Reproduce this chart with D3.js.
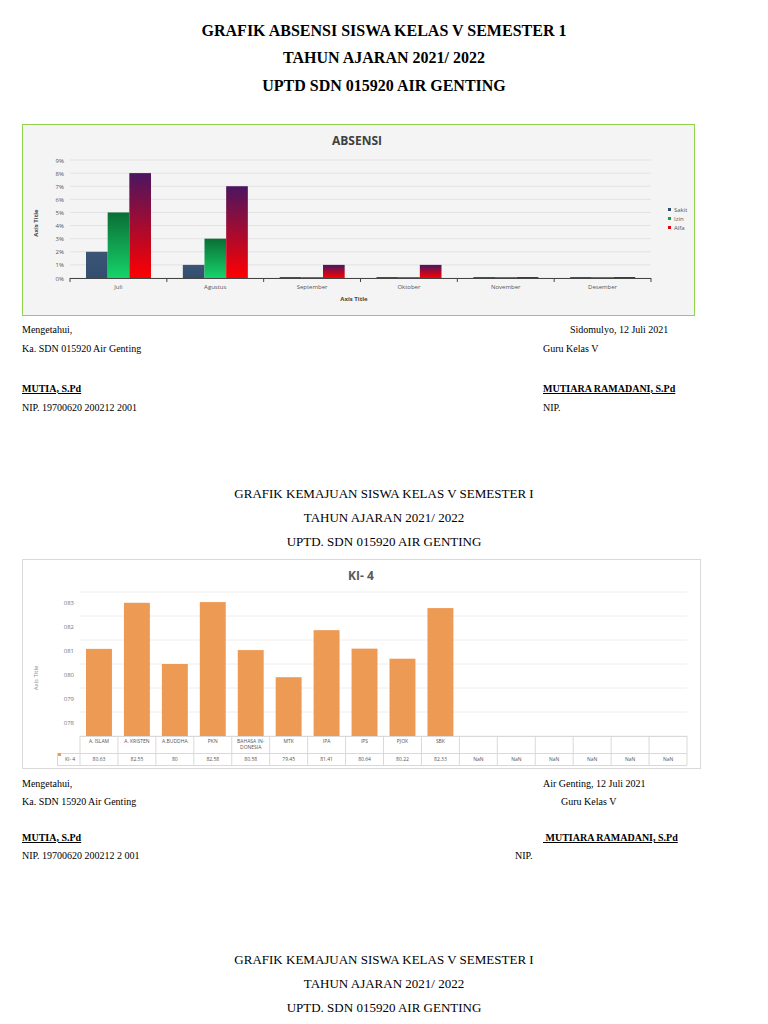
<!DOCTYPE html><html><head><meta charset="utf-8"><script src="https://cdn.jsdelivr.net/npm/d3@7"></script>
<style>body{margin:0;background:#fff}svg{display:block}</style></head><body><svg id="s" width="768" height="1024"></svg><script>
const months=["Juli","Agustus","September","Oktober","November","Desember"];
const sakit=[2,1,0,0,0,0];
const izin=[5,3,0,0,0,0];
const alfa=[8,7,1,1,0,0];
const seriesNames=["Sakit","Izin","Alfa"];
const pctTicks=[0,1,2,3,4,5,6,7,8,9];
const subjects=["A. ISLAM","A. KRISTEN","A.BUDDHA","PKN","BAHASA IN-|DONESIA","MTK","IPA","IPS","PJOK","SBK","","","","","",""];
const ki4=[80.63,82.55,80,82.58,80.58,79.45,81.41,80.64,80.22,82.33,null,null,null,null,null,null];
const ki4Ticks=[78,79,80,81,82,83];

const svg=d3.select("#s");
const serif="Liberation Serif, serif", sans="Open Sans, DejaVu Sans, sans-serif";
function txt(x,y,t,o={}){return svg.append("text").attr("x",x).attr("y",y).text(t).attr("font-family",o.f||serif).attr("font-size",o.s||10).attr("font-weight",o.b?"bold":"normal").attr("text-anchor",o.a||"start").attr("fill",o.c||"#000").attr("text-decoration",o.u?"underline":"none");}
[["GRAFIK ABSENSI SISWA KELAS V SEMESTER 1",36],["TAHUN AJARAN 2021/ 2022",63],["UPTD SDN 015920 AIR GENTING",91]].forEach(d=>txt(384,d[1],d[0],{s:16,b:1,a:"middle"}));

// chart 1
svg.append("rect").attr("x",22.5).attr("y",124.5).attr("width",672).attr("height",191).attr("fill","#f4f4f4").attr("stroke","#92d050");
txt(357,145,"ABSENSI",{f:sans,s:12,b:1,a:"middle",c:"#404040"});
const defs=svg.append("defs");
function grad(id,a,b){const g=defs.append("linearGradient").attr("id",id).attr("x1",0).attr("y1",0).attr("x2",0).attr("y2",1);g.append("stop").attr("offset","0").attr("stop-color",a);g.append("stop").attr("offset","1").attr("stop-color",b);}
grad("gs","#3b5575","#324d6e");grad("gi","#0a6e35","#16d36a");grad("ga","#4a1660","#ff0000");
const x1=d3.scaleBand().domain(months).range([70,651]);
const y1=d3.scaleLinear().domain([0,9]).range([278,160]);
const g1=svg.append("g");
pctTicks.forEach(t=>{g1.append("line").attr("x1",70).attr("x2",651).attr("y1",y1(t)).attr("y2",y1(t)).attr("stroke","#e2e2e2");txt(64,y1(t)+2.5,t+"%",{f:sans,s:6,a:"end",c:"#555"});});
const xs=d3.scaleBand().domain(seriesNames).range([0,65]);
const fills=["url(#gs)","url(#gi)","url(#ga)"];
[sakit,izin,alfa].forEach((arr,i)=>arr.forEach((v,j)=>{const x=x1(months[j])+16+xs(seriesNames[i]);g1.append("rect").attr("x",x).attr("width",xs.bandwidth()).attr("y",y1(v)-(v?0:1)).attr("height",y1(0)-y1(v)+(v?0:1)).attr("fill",fills[i]);}));
g1.append("line").attr("x1",70).attr("x2",651).attr("y1",278.5).attr("y2",278.5).attr("stroke","#444");
months.forEach((m,j)=>{txt(x1(m)+x1.bandwidth()/2,289,m,{f:sans,s:6,a:"middle",c:"#555"});});
d3.range(7).forEach(j=>g1.append("line").attr("x1",70+j*x1.bandwidth()).attr("x2",70+j*x1.bandwidth()).attr("y1",278).attr("y2",282).attr("stroke","#444"));
txt(354,301,"Axis Title",{f:sans,s:6,b:1,a:"middle",c:"#444"});
txt(0,0,"Axis Title",{f:sans,s:6,b:1,a:"middle",c:"#444"}).attr("transform","translate(38,223) rotate(-90)");
["#324d6e","#10a050","#e00010"].forEach((c,i)=>{g1.append("rect").attr("x",668).attr("y",208+i*9).attr("width",3).attr("height",3).attr("fill",c);txt(674,212+i*9,seriesNames[i],{f:sans,s:6,c:"#555"});});

// signatures 1
txt(22,333,"Mengetahui,");txt(570,333,"Sidomulyo, 12 Juli 2021");
txt(22,352,"Ka. SDN 015920 Air Genting");txt(543,352,"Guru Kelas V");
txt(22,392,"MUTIA, S.Pd",{b:1,u:1});txt(543,392,"MUTIARA RAMADANI, S.Pd",{b:1,u:1});
txt(22,411,"NIP. 19700620 200212 2001");txt(543,411,"NIP.");

[["GRAFIK KEMAJUAN SISWA KELAS V SEMESTER I",498],["TAHUN AJARAN 2021/ 2022",522],["UPTD. SDN 015920 AIR GENTING",546]].forEach(d=>txt(384,d[1],d[0],{s:13,a:"middle"}));

// chart 2
svg.append("rect").attr("x",22.5).attr("y",559.5).attr("width",678).attr("height",209).attr("fill","#fff").attr("stroke","#d9d9d9");
txt(361,580,"KI- 4",{f:sans,s:12,b:1,a:"middle",c:"#595959"});
const x2=d3.scaleBand().domain(d3.range(16)).range([80,687]);
const y2=d3.scaleLinear().domain([77,83]).range([736,592]);
const g2=svg.append("g");
d3.range(77,84).forEach(t=>g2.append("line").attr("x1",80).attr("x2",687).attr("y1",y2(t)).attr("y2",y2(t)).attr("stroke","#eeeeee"));
ki4Ticks.forEach(t=>txt(74,y2(t)+13,"0"+t,{f:sans,s:6,a:"end",c:"#777"}));
txt(0,0,"Axis Title",{f:sans,s:6,a:"middle",c:"#888"}).attr("transform","translate(38,678) rotate(-90)");
ki4.forEach((v,i)=>{if(v==null)return;g2.append("rect").attr("x",x2(i)+6).attr("width",x2.bandwidth()-12).attr("y",y2(v)).attr("height",y2(77)-y2(v)).attr("fill","#ed9a55");});
// table
const tb=svg.append("g").attr("stroke","#d9d9d9").attr("fill","none");
tb.append("line").attr("x1",57).attr("x2",687).attr("y1",753.5).attr("y2",753.5);
tb.append("line").attr("x1",80).attr("x2",687).attr("y1",736.5).attr("y2",736.5);
tb.append("line").attr("x1",57).attr("x2",687).attr("y1",765.5).attr("y2",765.5);
tb.append("line").attr("x1",57.5).attr("x2",57.5).attr("y1",753).attr("y2",765);
d3.range(17).forEach(i=>tb.append("line").attr("x1",80+i*x2.bandwidth()).attr("x2",80+i*x2.bandwidth()).attr("y1",736).attr("y2",765));
subjects.forEach((s,i)=>{const p=s.split("|");const cx=x2(i)+x2.bandwidth()/2;p.forEach((q,k)=>txt(cx,p.length>1?743+k*6:743,q,{f:sans,s:5,a:"middle",c:"#555"}));
 txt(cx,761,ki4[i]==null?"NaN":String(ki4[i]),{f:sans,s:5,a:"middle",c:"#555"});});
svg.append("rect").attr("x",58).attr("y",753).attr("width",3).attr("height",3).attr("fill","#ed9a55");
txt(65,761,"KI- 4",{f:sans,s:5,c:"#555"});

txt(22,787,"Mengetahui,");txt(543,787,"Air Genting, 12 Juli 2021");
txt(22,805,"Ka. SDN 15920 Air Genting");txt(561,805,"Guru Kelas V");
txt(22,841,"MUTIA, S.Pd",{b:1,u:1});txt(543,841,"\u00a0MUTIARA RAMADANI, S.Pd",{b:1,u:1}).attr("xml:space","preserve");
txt(22,859,"NIP. 19700620 200212 2 001");txt(515,859,"NIP.");

[["GRAFIK KEMAJUAN SISWA KELAS V SEMESTER I",964],["TAHUN AJARAN 2021/ 2022",988],["UPTD. SDN 015920 AIR GENTING",1012]].forEach(d=>txt(384,d[1],d[0],{s:13,a:"middle"}));
</script></body></html>
